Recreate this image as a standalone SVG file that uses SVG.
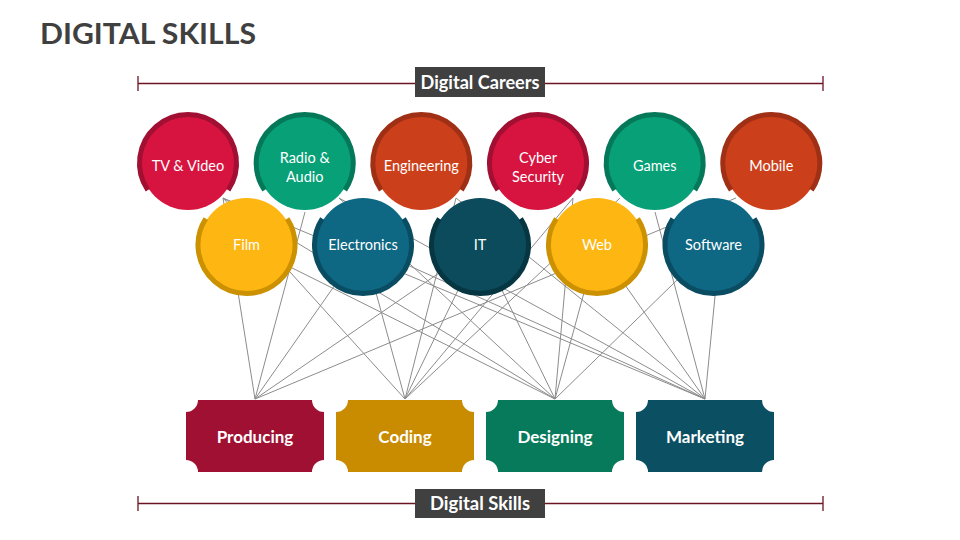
<svg xmlns="http://www.w3.org/2000/svg" width="960" height="540" viewBox="0 0 960 540">
<defs>
<style>
.title{font-family:Lato,"Open Sans","Liberation Sans",sans-serif;font-weight:700;font-size:29px;fill:#404040}
.hdr{font-family:Lato,"Liberation Sans",sans-serif;font-weight:700;font-size:18px;fill:#ffffff;text-anchor:middle}
.hbox{fill:#404040}
.rule{stroke:#6b1524;stroke-width:1.3;fill:none}
.con{stroke:#8c8c8c;stroke-width:1;fill:none}
.lbl{font-family:Lato,"Liberation Sans",sans-serif;font-size:14.5px;fill:#ffffff;text-anchor:middle}
.blbl{font-family:Lato,"Liberation Sans",sans-serif;font-weight:700;font-size:17px;fill:#ffffff;text-anchor:middle}
.ring{fill:none;stroke-width:5}
.red{fill:#d7143f}.redr{stroke:#a10f32}
.grn{fill:#07a077}.grnr{stroke:#06785a}
.org{fill:#cc3f1b}.orgr{stroke:#a03015}
.gld{fill:#fdb612}.gldr{stroke:#cc9100}
.tel{fill:#0e6783}.telr{stroke:#0a4d63}
.dtl{fill:#0b4b5c}.dtlr{stroke:#063642}
</style>
</defs>
<rect width="960" height="540" fill="#ffffff"/>
<text class="title" x="40" y="44" textLength="216" lengthAdjust="spacingAndGlyphs">DIGITAL SKILLS</text>

<g id="careers-header">
<path class="rule" d="M138 83.5H415M545 83.5H823M138 76V91M823 76V91"/>
<rect class="hbox" x="415" y="67" width="130" height="30"/>
<text class="hdr" x="480" y="89" textLength="119" lengthAdjust="spacingAndGlyphs">Digital Careers</text>
</g>

<g id="skills-header">
<path class="rule" d="M138 503.5H415M545 503.5H823M138 496V511M823 496V511"/>
<rect class="hbox" x="415" y="489" width="130" height="29"/>
<text class="hdr" x="480" y="510" textLength="100" lengthAdjust="spacingAndGlyphs">Digital Skills</text>
</g>

<g id="connectors">
<!-- Producing -->
<line class="con" x1="223" y1="198" x2="255" y2="399"/>
<line class="con" x1="305" y1="212" x2="255" y2="399"/>
<line class="con" x1="363" y1="245" x2="255" y2="399"/>
<line class="con" x1="480" y1="245" x2="255" y2="399"/>
<line class="con" x1="736" y1="198" x2="255" y2="399"/>
<!-- Coding -->
<line class="con" x1="223" y1="198" x2="405" y2="399"/>
<line class="con" x1="363" y1="245" x2="405" y2="399"/>
<line class="con" x1="456" y1="198" x2="405" y2="399"/>
<line class="con" x1="480" y1="245" x2="405" y2="399"/>
<line class="con" x1="573" y1="198" x2="405" y2="399"/>
<line class="con" x1="620" y1="198" x2="405" y2="399"/>
<!-- Designing -->
<line class="con" x1="223" y1="198" x2="555" y2="399"/>
<line class="con" x1="246" y1="245" x2="555" y2="399"/>
<line class="con" x1="339" y1="198" x2="555" y2="399"/>
<line class="con" x1="480" y1="245" x2="555" y2="399"/>
<line class="con" x1="573" y1="198" x2="555" y2="399"/>
<line class="con" x1="597" y1="245" x2="555" y2="399"/>
<line class="con" x1="713" y1="245" x2="555" y2="399"/>
<!-- Marketing -->
<line class="con" x1="223" y1="198" x2="705" y2="399"/>
<line class="con" x1="339" y1="198" x2="705" y2="399"/>
<line class="con" x1="363" y1="245" x2="705" y2="399"/>
<line class="con" x1="456" y1="198" x2="705" y2="399"/>
<line class="con" x1="597" y1="245" x2="705" y2="399"/>
<line class="con" x1="655" y1="212" x2="705" y2="399"/>
<line class="con" x1="720" y1="245" x2="705" y2="399"/>
</g>

<!-- top row careers -->
<g id="tv-video">
<circle class="red" cx="188" cy="163" r="47"/>
<path class="ring redr" d="M147.8 190.1A48.5 48.5 0 1 1 228.2 190.1"/>
<text class="lbl" x="188" y="171">TV &amp; Video</text>
</g>
<g id="radio-audio">
<circle class="grn" cx="304.7" cy="163" r="47"/>
<path class="ring grnr" d="M264.5 190.1A48.5 48.5 0 1 1 344.9 190.1"/>
<text class="lbl" x="304.7" y="163">Radio &amp;</text>
<text class="lbl" x="304.7" y="182">Audio</text>
</g>
<g id="engineering">
<circle class="org" cx="421.3" cy="163" r="47"/>
<path class="ring orgr" d="M381.1 190.1A48.5 48.5 0 1 1 461.5 190.1"/>
<text class="lbl" x="421.3" y="171">Engineering</text>
</g>
<g id="cyber-security">
<circle class="red" cx="538" cy="163" r="47"/>
<path class="ring redr" d="M497.8 190.1A48.5 48.5 0 1 1 578.2 190.1"/>
<text class="lbl" x="538" y="163">Cyber</text>
<text class="lbl" x="538" y="182">Security</text>
</g>
<g id="games">
<circle class="grn" cx="654.7" cy="163" r="47"/>
<path class="ring grnr" d="M614.5 190.1A48.5 48.5 0 1 1 694.9 190.1"/>
<text class="lbl" x="654.7" y="171">Games</text>
</g>
<g id="mobile">
<circle class="org" cx="771.3" cy="163" r="47"/>
<path class="ring orgr" d="M731.1 190.1A48.5 48.5 0 1 1 811.5 190.1"/>
<text class="lbl" x="771.3" y="171">Mobile</text>
</g>

<!-- bottom row careers -->
<g id="film">
<circle class="gld" cx="246.5" cy="245" r="47"/>
<path class="ring gldr" d="M287.2 218.6A48.5 48.5 0 1 1 205.8 218.6"/>
<text class="lbl" x="246.5" y="250">Film</text>
</g>
<g id="electronics">
<circle class="tel" cx="363" cy="245" r="47"/>
<path class="ring telr" d="M403.7 218.6A48.5 48.5 0 1 1 322.3 218.6"/>
<text class="lbl" x="363" y="250">Electronics</text>
</g>
<g id="it">
<circle class="dtl" cx="480" cy="245" r="47"/>
<path class="ring dtlr" d="M520.7 218.6A48.5 48.5 0 1 1 439.3 218.6"/>
<text class="lbl" x="480" y="250">IT</text>
</g>
<g id="web">
<circle class="gld" cx="597" cy="245" r="47"/>
<path class="ring gldr" d="M637.7 218.6A48.5 48.5 0 1 1 556.3 218.6"/>
<text class="lbl" x="597" y="250">Web</text>
</g>
<g id="software">
<circle class="tel" cx="713.5" cy="245" r="47"/>
<path class="ring telr" d="M754.2 218.6A48.5 48.5 0 1 1 672.8 218.6"/>
<text class="lbl" x="713.5" y="250">Software</text>
</g>

<!-- skills -->
<g id="producing">
<path fill="#a01033" d="M198 400H312A12 12 0 0 0 324 412V460A12 12 0 0 0 312 472H198A12 12 0 0 0 186 460V412A12 12 0 0 0 198 400Z"/>
<text class="blbl" x="255" y="443">Producing</text>
</g>
<g id="coding">
<path fill="#c98b00" d="M348 400H462A12 12 0 0 0 474 412V460A12 12 0 0 0 462 472H348A12 12 0 0 0 336 460V412A12 12 0 0 0 348 400Z"/>
<text class="blbl" x="405" y="443">Coding</text>
</g>
<g id="designing">
<path fill="#077a5b" d="M498 400H612A12 12 0 0 0 624 412V460A12 12 0 0 0 612 472H498A12 12 0 0 0 486 460V412A12 12 0 0 0 498 400Z"/>
<text class="blbl" x="555" y="443">Designing</text>
</g>
<g id="marketing">
<path fill="#0b4f63" d="M648 400H762A12 12 0 0 0 774 412V460A12 12 0 0 0 762 472H648A12 12 0 0 0 636 460V412A12 12 0 0 0 648 400Z"/>
<text class="blbl" x="705" y="443">Marketing</text>
</g>
</svg>
